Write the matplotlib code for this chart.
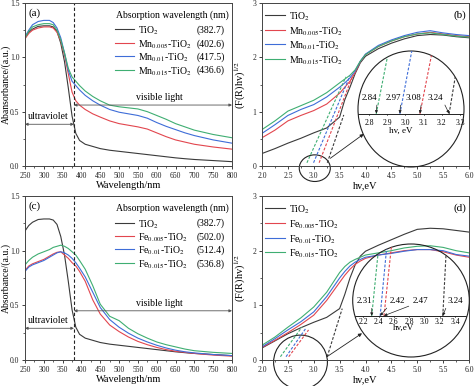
import matplotlib
matplotlib.use('Agg')
import matplotlib.pyplot as plt
from matplotlib.patches import Ellipse
from matplotlib.ticker import MultipleLocator, FormatStrFormatter

plt.rcParams['font.family'] = ['Liberation Serif', 'DejaVu Serif']
plt.rcParams['mathtext.fontset'] = 'stix'
plt.rcParams['axes.linewidth'] = 0.7

# ---------------- data ----------------
wl = [250, 260, 270, 285, 300, 315, 325, 335, 345, 355, 365, 375, 385, 395, 410,
      430, 450, 475, 500, 525, 550, 575, 600, 625, 650, 675, 700, 750, 800]
abs_tio2 = [1.18, 1.23, 1.26, 1.285, 1.29, 1.29, 1.28, 1.24, 1.13, 0.96, 0.72, 0.46, 0.30, 0.235, 0.20,
            0.18, 0.16, 0.145, 0.135, 0.125, 0.115, 0.105, 0.095, 0.085, 0.075, 0.067, 0.06, 0.05, 0.04]
abs_mn005 = [1.17, 1.22, 1.25, 1.27, 1.28, 1.28, 1.27, 1.23, 1.15, 1.02, 0.85, 0.68, 0.60, 0.56, 0.52,
             0.48, 0.45, 0.415, 0.39, 0.375, 0.36, 0.34, 0.305, 0.27, 0.24, 0.22, 0.20, 0.175, 0.155]
abs_mn01 = [1.19, 1.25, 1.30, 1.33, 1.34, 1.34, 1.32, 1.27, 1.18, 1.04, 0.88, 0.78, 0.74, 0.70, 0.65,
            0.60, 0.56, 0.52, 0.495, 0.48, 0.465, 0.44, 0.40, 0.365, 0.335, 0.305, 0.28, 0.24, 0.21]
abs_mn015 = [1.18, 1.24, 1.28, 1.30, 1.31, 1.31, 1.30, 1.25, 1.16, 1.04, 0.90, 0.82, 0.78, 0.74, 0.69,
             0.64, 0.60, 0.56, 0.545, 0.535, 0.525, 0.50, 0.465, 0.43, 0.39, 0.36, 0.33, 0.29, 0.26]
abs_fe005 = [0.82, 0.86, 0.88, 0.90, 0.92, 0.95, 0.97, 0.985, 0.99, 0.96, 0.93, 0.89, 0.86, 0.81, 0.72,
             0.55, 0.42, 0.32, 0.26, 0.21, 0.17, 0.14, 0.115, 0.095, 0.08, 0.07, 0.06, 0.045, 0.035]
abs_fe01 = [0.81, 0.85, 0.87, 0.89, 0.91, 0.94, 0.96, 0.98, 0.99, 0.98, 0.96, 0.93, 0.89, 0.84, 0.76,
            0.62, 0.48, 0.37, 0.30, 0.245, 0.20, 0.165, 0.135, 0.11, 0.09, 0.075, 0.065, 0.05, 0.04]
abs_fe015 = [0.87, 0.91, 0.94, 0.97, 0.99, 1.01, 1.03, 1.04, 1.05, 1.04, 1.02, 0.99, 0.96, 0.91, 0.83,
             0.68, 0.51, 0.40, 0.36, 0.29, 0.24, 0.20, 0.165, 0.14, 0.12, 0.10, 0.085, 0.07, 0.06]

hv = [2.0, 2.25, 2.5, 2.75, 3.0, 3.25, 3.5, 3.6, 3.7, 3.8, 3.9, 4.0, 4.25, 4.5, 4.75,
      5.0, 5.25, 5.5, 5.75, 6.0]
km_tio2_b = [0.23, 0.32, 0.42, 0.51, 0.61, 0.70, 0.90, 1.22, 1.45, 1.70, 1.90, 2.02, 2.16, 2.26, 2.34,
             2.40, 2.42, 2.41, 2.38, 2.36]
km_mn005 = [0.52, 0.66, 0.83, 0.93, 1.02, 1.14, 1.34, 1.45, 1.56, 1.72, 1.92, 2.05, 2.20, 2.30, 2.38,
            2.43, 2.46, 2.43, 2.40, 2.38]
km_mn01 = [0.60, 0.76, 0.93, 1.04, 1.13, 1.27, 1.45, 1.53, 1.62, 1.75, 1.93, 2.06, 2.22, 2.32, 2.40,
           2.46, 2.49, 2.45, 2.42, 2.40]
km_mn015 = [0.67, 0.83, 1.01, 1.11, 1.21, 1.35, 1.53, 1.60, 1.67, 1.77, 1.93, 2.05, 2.20, 2.30, 2.38,
            2.43, 2.45, 2.42, 2.39, 2.37]
km_tio2_d = [0.22, 0.35, 0.48, 0.59, 0.69, 0.78, 0.94, 1.20, 1.50, 1.74, 1.90, 1.99, 2.10, 2.20, 2.30,
             2.39, 2.41, 2.40, 2.37, 2.34]
km_fe005 = [0.23, 0.36, 0.50, 0.65, 0.82, 1.09, 1.42, 1.55, 1.66, 1.75, 1.81, 1.86, 1.92, 1.96, 2.00,
            2.02, 2.02, 1.98, 1.92, 1.88]
km_fe01 = [0.24, 0.39, 0.55, 0.70, 0.88, 1.16, 1.50, 1.62, 1.72, 1.79, 1.84, 1.88, 1.92, 1.95, 1.99,
           2.02, 2.02, 2.00, 1.93, 1.90]
km_fe015 = [0.27, 0.42, 0.60, 0.77, 0.97, 1.24, 1.60, 1.71, 1.79, 1.84, 1.88, 1.92, 1.96, 2.00, 2.05,
            2.08, 2.09, 2.06, 2.00, 1.96]

names_mn = ['TiO$_2$', 'Mn$_{0.005}$-TiO$_2$', 'Mn$_{0.01}$-TiO$_2$', 'Mn$_{0.015}$-TiO$_2$']
names_fe = ['TiO$_2$', 'Fe$_{0.005}$-TiO$_2$', 'Fe$_{0.01}$-TiO$_2$', 'Fe$_{0.015}$-TiO$_2$']
edge_mn = ['382.7', '402.6', '417.5', '436.6']
edge_fe = ['382.7', '502.0', '512.4', '536.8']

# band gaps (x-intercepts) and end points of the tangent lines
gap_mn = [3.24, 3.08, 2.97, 2.84]
tan_end_x_mn = [3.58, 3.76, 3.70, 3.62]
tan_end_y_mn = [0.94, 1.68, 1.66, 1.64]
gap_fe = [3.24, 2.47, 2.42, 2.31]
tan_end_x_fe = [3.55, 2.90, 2.84, 2.77]
tan_end_y_fe = [0.94, 0.55, 0.57, 0.60]

colors = ['#3a3a3a', '#e2464e', '#3e6dd8', '#3fae72']
ink = '#222222'

# ---------------- layout ----------------
W, H = 474, 386
fig = plt.figure(figsize=(W / 100, H / 100), dpi=100)


def box(l, t, r, b):
    return [l / W, 1 - b / H, (r - l) / W, (b - t) / H]


ax_a = fig.add_axes(box(25, 3, 232, 166))
ax_b = fig.add_axes(box(262, 3, 469, 166))
ax_c = fig.add_axes(box(25, 196, 232, 360))
ax_d = fig.add_axes(box(262, 196, 469, 360))


def style(ax):
    ax.tick_params(which='both', direction='out', labelsize=5.5, pad=1.5, colors=ink)
    ax.tick_params(which='major', length=2.5, width=0.6)
    ax.tick_params(which='minor', length=1.5, width=0.5)
    for s in ax.spines.values():
        s.set_color('#444444')


def absorb_panel(ax, series, names, edges, tag, ylabel, uv_y, vis_y):
    for vals, c in zip(series, colors):
        ax.plot(wl, vals, color=c, lw=0.8)
    ax.axvline(380, color=ink, ls=(0, (3, 2)), lw=0.8)
    ax.set_xlim(250, 800)
    ax.set_ylim(0, 1.5)
    ax.xaxis.set_major_locator(MultipleLocator(50))
    ax.xaxis.set_minor_locator(MultipleLocator(25))
    ax.yaxis.set_major_locator(MultipleLocator(0.5))
    ax.yaxis.set_minor_locator(MultipleLocator(0.25))
    ax.yaxis.set_major_formatter(FormatStrFormatter('%.1f'))
    ax.set_xlabel('Wavelength/nm', fontsize=7.5, labelpad=1)
    ax.set_ylabel(ylabel, fontsize=7)
    ax.yaxis.set_label_coords(-0.066, 0.5)
    style(ax)
    ap = dict(arrowstyle='<|-|>', lw=0.6, color='#555555', mutation_scale=4, shrinkA=0, shrinkB=0)
    ax.annotate('', xy=(250, uv_y), xytext=(380, uv_y), arrowprops=ap)
    ax.annotate('', xy=(380, vis_y), xytext=(800, vis_y), arrowprops=ap)
    ax.text(312, uv_y + 0.075, 'ultraviolet', ha='center', va='center', fontsize=7)
    ax.text(608, vis_y + 0.065, 'visible light', ha='center', va='center', fontsize=7)
    ax.text(0.048, 0.937, tag, transform=ax.transAxes, ha='center', va='center', fontsize=8)
    # legend with absorption edges
    ax.text(0.71, 0.928, 'Absorption wavelength (nm)', transform=ax.transAxes,
            ha='center', va='center', fontsize=7)
    for i, (n, e, c) in enumerate(zip(names, edges, colors)):
        y = 0.838 - i * 0.082
        ax.plot([0.435, 0.525], [y, y], transform=ax.transAxes, color=c, lw=0.8)
        ax.text(0.545, y, n, transform=ax.transAxes, va='center_baseline', fontsize=7)
        ax.text(0.965, y, f'({e})', transform=ax.transAxes, ha='right', va='center_baseline', fontsize=7)


def tauc_panel(ax, series, names, tag, gaps, ex, ey, small_c, small_w, small_h):
    for vals, c in zip(series, colors):
        ax.plot(hv, vals, color=c, lw=0.8)
    for g, x1, y1, c in zip(gaps, ex, ey, colors):
        k = y1 / (x1 - g)
        y0 = 0.06
        ax.plot([g + y0 / k, x1], [y0, y1], color=c, ls=(0, (2.5, 1.5)), lw=0.8)
    ax.set_xlim(2, 6)
    ax.set_ylim(0, 3)
    ax.xaxis.set_major_locator(MultipleLocator(0.5))
    ax.xaxis.set_minor_locator(MultipleLocator(0.25))
    ax.xaxis.set_major_formatter(FormatStrFormatter('%.1f'))
    ax.yaxis.set_major_locator(MultipleLocator(1))
    ax.yaxis.set_minor_locator(MultipleLocator(0.5))
    ax.set_xlabel('hv,eV', fontsize=7.5, labelpad=1)
    ax.set_ylabel('(F(R)hv)$^{1/2}$', fontsize=7.5, labelpad=3)
    style(ax)
    ax.text(0.958, 0.926, tag, transform=ax.transAxes, ha='center', va='center', fontsize=8)
    for i, (n, c) in enumerate(zip(names, colors)):
        y = 0.926 - i * 0.09
        ax.plot([0.014, 0.11], [y, y], transform=ax.transAxes, color=c, lw=0.8)
        ax.text(0.13, y, n, transform=ax.transAxes, va='center_baseline', fontsize=7)
    ax.add_patch(Ellipse((small_c, -0.04), small_w, small_h, fill=False, ec=ink, lw=0.8, clip_on=False))


def zoom_inset(rect, xlim, ylim, ticks, fmt, gaps, slopes, lab_x, lab_y, rel, hv_xy, tick_y):
    ai = fig.add_axes(rect)
    ai.set_xlim(*xlim)
    ai.set_ylim(*ylim)
    ai.axis('off')
    circ = Ellipse((0.5, 0.5), 1, 1, transform=ai.transAxes, fill=False, ec=ink, lw=0.8, clip_on=False)
    ai.add_patch(circ)
    base, = ai.plot(xlim, [0, 0], color=ink, lw=0.7)
    base.set_clip_path(circ)
    for g, k, c in zip(gaps, slopes, colors):
        ln, = ai.plot([g, g + 2 / k], [0, 2], color=c, ls=(0, (2.5, 1.5)), lw=0.8)
        ln.set_clip_path(circ)
    for t in ticks:
        ai.plot([t, t], [0, -0.012 * (ylim[1] - ylim[0])], color=ink, lw=0.5)
        ai.text(t, tick_y, fmt % t, ha='center', va='center', fontsize=5.5)
    ai.text(hv_xy[0], hv_xy[1], hv_xy[2], ha='center', va='center', fontsize=6.5)
    for g, x, r in zip(gaps, lab_x, rel):
        ai.annotate(f'{g:.2f}', xy=(g, 0.003), xytext=(x, lab_y), ha='center', va='center', fontsize=6.5,
                    arrowprops=dict(arrowstyle='-|>', lw=0.5, color=ink, mutation_scale=4,
                                    shrinkA=0.5, shrinkB=0, relpos=r))
    return ai


absorb_panel(ax_a, [abs_tio2, abs_mn005, abs_mn01, abs_mn015], names_mn, edge_mn, '(a)',
             'Abansorbance/(a.u.)', 0.384, 0.561)
absorb_panel(ax_c, [abs_tio2, abs_fe005, abs_fe01, abs_fe015], names_fe, edge_fe, '(c)',
             'Absorbance/(a.u.)', 0.29, 0.45)

tauc_panel(ax_b, [km_tio2_b, km_mn005, km_mn01, km_mn015], names_mn, '(b)',
           gap_mn, tan_end_x_mn, tan_end_y_mn, 3.02, 0.6, 0.49)
tauc_panel(ax_d, [km_tio2_d, km_fe005, km_fe01, km_fe015], names_fe, '(d)',
           gap_fe, tan_end_x_fe, tan_end_y_fe, 2.744, 1.04, 0.99)

zoom_inset(box(358, 51, 464, 167), (2.740, 3.322), (-0.291, 0.346),
           [2.8, 2.9, 3.0, 3.1, 3.2, 3.3], '%.1f', gap_mn, [6.0, 5.1, 5.3, 5.1],
           [3.165, 3.046, 2.932, 2.802], 0.09, [(1, 0)] * 4, (2.972, -0.092, 'hv, eV'), -0.051)
zoom_inset(box(352.7, 244, 469.3, 357), (2.061, 3.587), (-0.537, 0.942),
           [2.2, 2.4, 2.6, 2.8, 3.0, 3.2, 3.4], '%.1f', gap_fe, [19, 9.3, 10.4, 9.9],
           [3.40, 2.942, 2.645, 2.209], 0.198, [(0, 0), (0, 0), (0, 0), (1, 0)],
           (2.728, -0.161, 'hv,eV'), -0.075)

# arrows linking the small circles to the magnified views
link = dict(arrowstyle='-|>', lw=0.6, color=ink, mutation_scale=5, shrinkA=0, shrinkB=0)
fig.add_artist(plt.Annotation('', xy=(363.7 / W, 1 - 134 / H), xytext=(330.3 / W, 1 - 158.3 / H),
                              xycoords='figure fraction', arrowprops=link))
fig.add_artist(plt.Annotation('', xy=(362 / W, 1 - 333.3 / H), xytext=(327 / W, 1 - 356.7 / H),
                              xycoords='figure fraction', arrowprops=link))

fig.savefig('out.png', dpi=100)
